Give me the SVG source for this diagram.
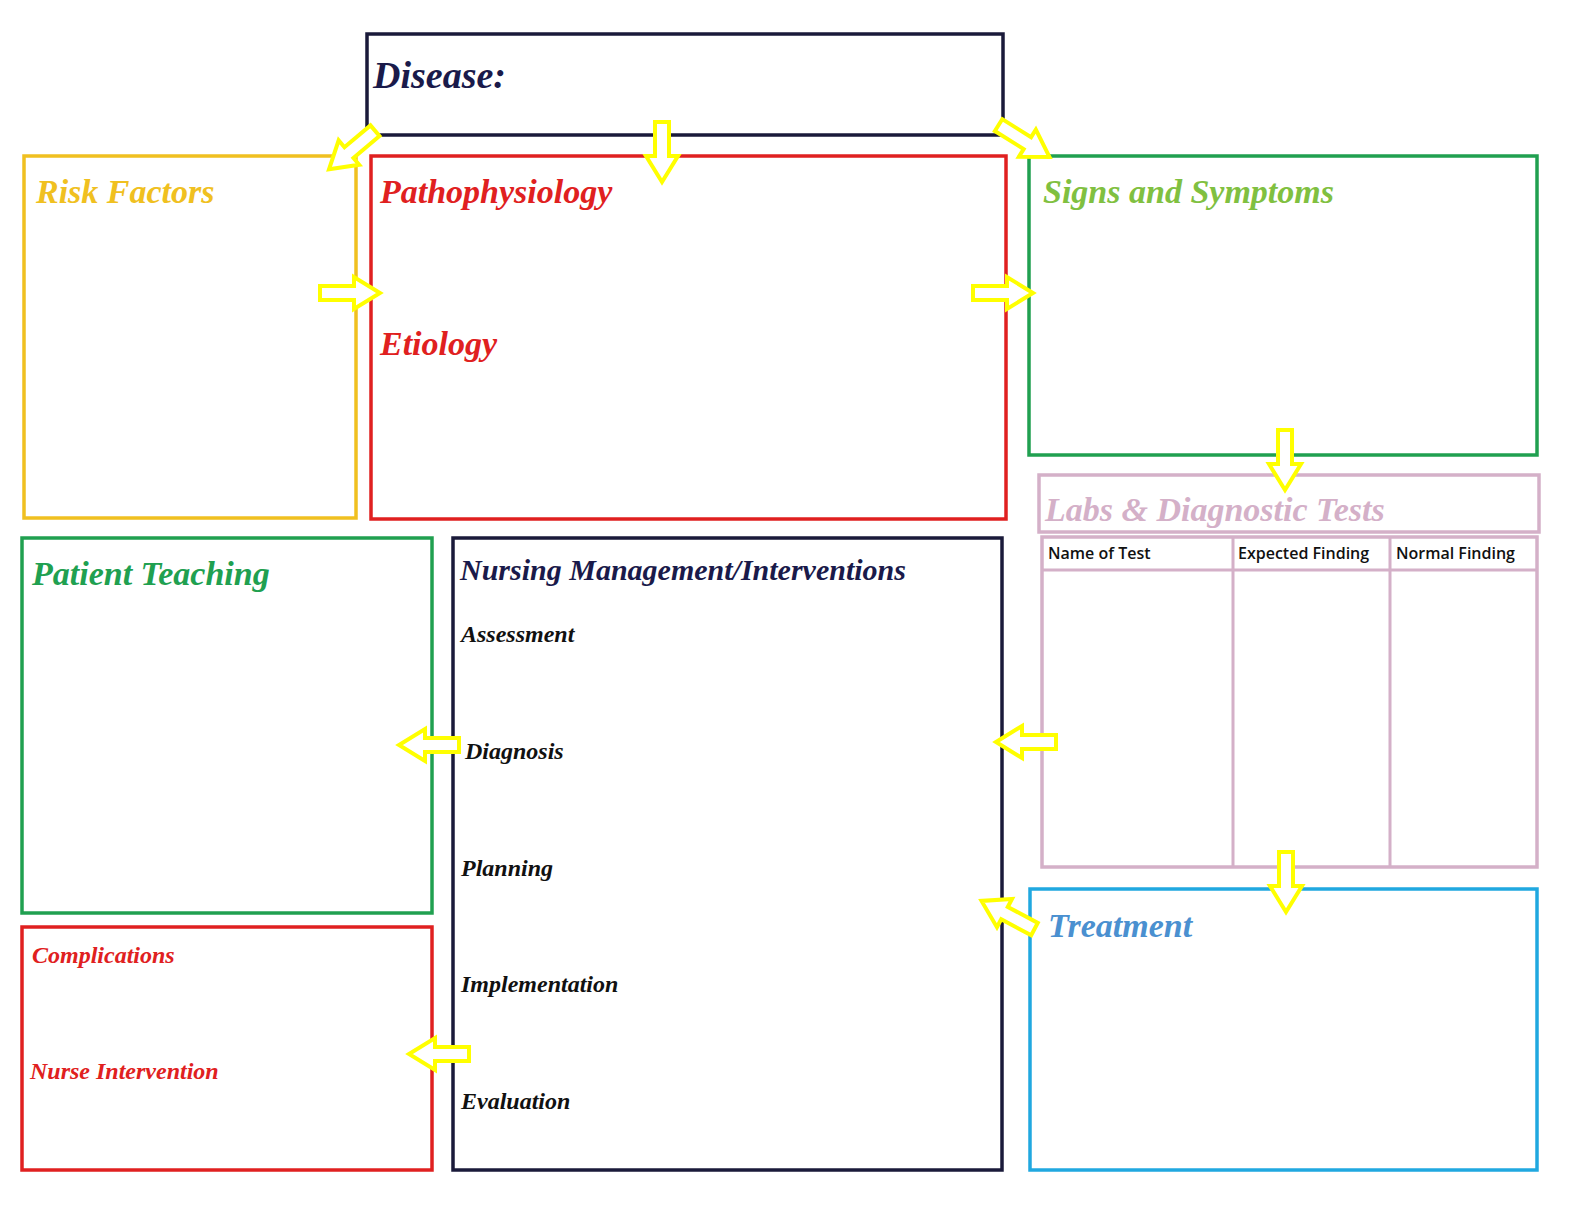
<svg xmlns="http://www.w3.org/2000/svg" width="1588" height="1227" viewBox="0 0 1588 1227">
<style>
.b{fill:none;stroke-width:3.5}
.s{font-family:"Liberation Serif",serif;font-style:italic;font-weight:bold}
.t{font-family:"Open Sans",sans-serif;font-weight:600;font-size:16px;fill:#111}
.a{fill:#fff;stroke:#ffff00;stroke-width:4;stroke-linejoin:miter}
</style>
<defs><path id="ar" d="M-30,-7 H4 V-16 L30,0 L4,16 V7 H-30 Z"/></defs>
<rect width="1588" height="1227" fill="#fff"/>
<g id="disease"><rect class="b" x="367" y="34" width="636" height="101" stroke="#1a1a3a"/><text class="s" x="373" y="88" font-size="38" fill="#1a1a4a">Disease:</text></g>
<g id="risk"><rect class="b" x="24" y="156" width="332" height="362" stroke="#f0c020"/><text class="s" x="36" y="203" font-size="34" fill="#f0c020">Risk Factors</text></g>
<g id="patho"><rect class="b" x="371" y="156" width="635" height="363" stroke="#e02020"/><text class="s" x="380" y="203" font-size="34" fill="#e02020">Pathophysiology</text><text class="s" x="380" y="355" font-size="34" fill="#e02020">Etiology</text></g>
<g id="signs"><rect class="b" x="1029" y="156" width="508" height="299" stroke="#20a050"/><text class="s" x="1043" y="203" font-size="34" fill="#80c040">Signs and Symptoms</text></g>
<g id="labs"><rect class="b" x="1039" y="475" width="500" height="57" stroke="#d4b0c8"/><text class="s" x="1045" y="521" font-size="34" fill="#d4b0c8">Labs &amp; Diagnostic Tests</text>
<rect class="b" x="1042" y="537" width="495" height="330" stroke="#d4b0c8"/><path d="M1042,570H1537M1233,537V867M1390,537V867" stroke="#d4b0c8" stroke-width="3" fill="none"/>
<text class="t" x="1048" y="559">Name of Test</text><text class="t" x="1238" y="559">Expected Finding</text><text class="t" x="1396" y="559">Normal Finding</text></g>
<g id="teaching"><rect class="b" x="22" y="538" width="410" height="375" stroke="#20a050"/><text class="s" x="32" y="585" font-size="34" fill="#20a050">Patient Teaching</text></g>
<g id="nursing"><rect class="b" x="453" y="538" width="549" height="632" stroke="#1a1a3a"/><text class="s" x="460" y="580" font-size="30" fill="#1a1a4a">Nursing Management/Interventions</text>
<g class="s" font-size="24" fill="#111"><text x="461" y="642">Assessment</text><text x="465" y="759">Diagnosis</text><text x="461" y="876">Planning</text><text x="461" y="992">Implementation</text><text x="461" y="1109">Evaluation</text></g></g>
<g id="complications"><rect class="b" x="22" y="927" width="410" height="243" stroke="#e02020"/><text class="s" x="32" y="963" font-size="24" fill="#e02020">Complications</text><text class="s" x="30" y="1079" font-size="24" fill="#e02020">Nurse Intervention</text></g>
<g id="treatment"><rect class="b" x="1030" y="889" width="507" height="281" stroke="#20a8e0"/><text class="s" x="1048" y="937" font-size="34" fill="#4a90d0">Treatment</text></g>
<g id="connectors">
<use href="#ar" class="a" transform="translate(352,150) rotate(140)"/>
<use href="#ar" class="a" transform="translate(662,152) rotate(90)"/>
<use href="#ar" class="a" transform="translate(1024,141) rotate(32)"/>
<use href="#ar" class="a" transform="translate(350,293)"/>
<use href="#ar" class="a" transform="translate(1003,293)"/>
<use href="#ar" class="a" transform="translate(1285,460) rotate(90)"/>
<use href="#ar" class="a" transform="translate(1026,742) rotate(180)"/>
<use href="#ar" class="a" transform="translate(429,745) rotate(180)"/>
<use href="#ar" class="a" transform="translate(1286,882) rotate(90)"/>
<use href="#ar" class="a" transform="translate(1008,915) rotate(208)"/>
<use href="#ar" class="a" transform="translate(439,1054) rotate(180)"/>
</g>
</svg>
